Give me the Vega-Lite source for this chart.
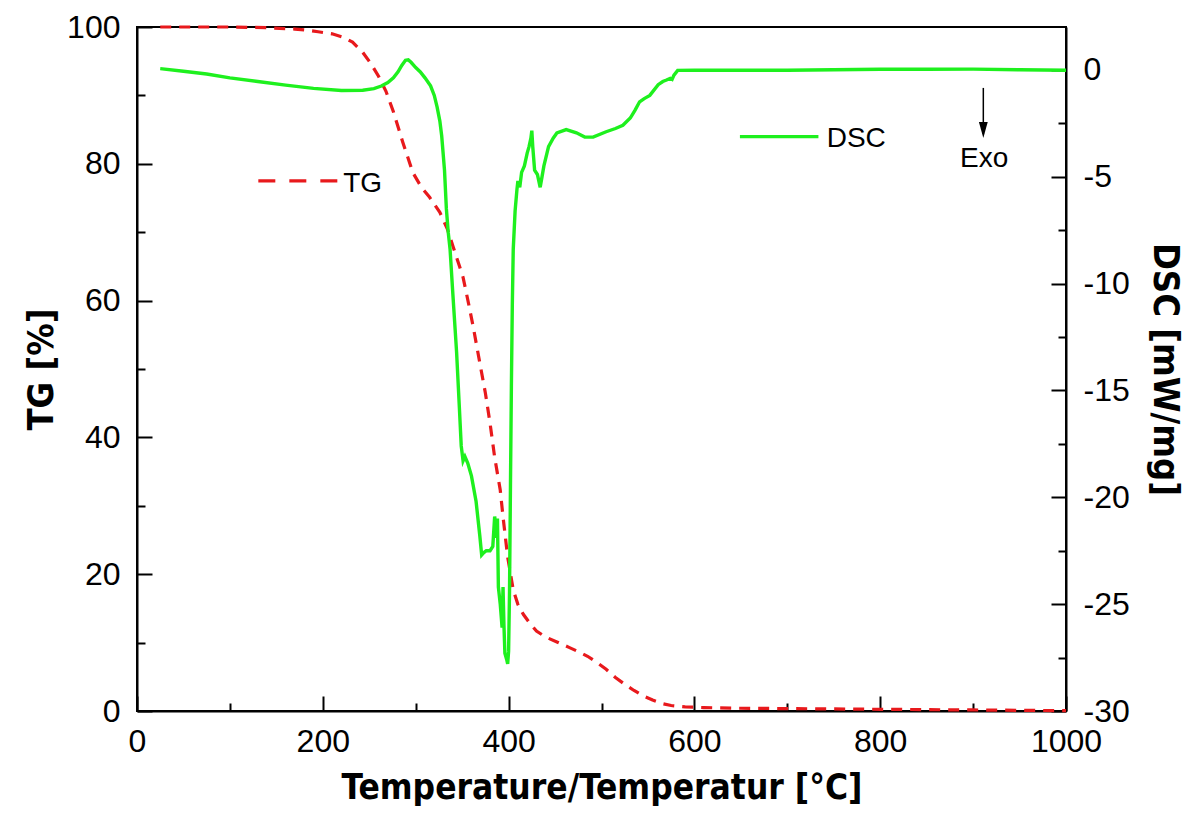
{
  "$schema": "https://vega.github.io/schema/vega-lite/v6.json",
  "width": 929,
  "height": 684,
  "autosize": {"type": "none"},
  "padding": {"left": 137, "top": 27, "right": 134, "bottom": 110},
  "background": "#ffffff",
  "datasets": {
    "tg": [
      {"T": 25, "TG": 100}, {"T": 60, "TG": 100}, {"T": 100, "TG": 100}, {"T": 140, "TG": 99.9},
      {"T": 170, "TG": 99.7}, {"T": 185, "TG": 99.5}, {"T": 195, "TG": 99.3}, {"T": 210, "TG": 99.0},
      {"T": 222, "TG": 98.5}, {"T": 232, "TG": 97.8}, {"T": 243, "TG": 96.3}, {"T": 252, "TG": 94.6},
      {"T": 260, "TG": 92.8}, {"T": 268, "TG": 90.6}, {"T": 276, "TG": 87.6}, {"T": 286, "TG": 83.2},
      {"T": 297, "TG": 78.7}, {"T": 306, "TG": 76.6}, {"T": 315, "TG": 75.1}, {"T": 326, "TG": 72.9},
      {"T": 334, "TG": 70.5}, {"T": 340, "TG": 68.0}, {"T": 346, "TG": 65.5}, {"T": 351, "TG": 63.4},
      {"T": 357, "TG": 59.5}, {"T": 362, "TG": 56.1}, {"T": 369, "TG": 50.9}, {"T": 375, "TG": 46.5},
      {"T": 380, "TG": 42.1}, {"T": 385, "TG": 37.1}, {"T": 391, "TG": 32.3}, {"T": 394, "TG": 28.4},
      {"T": 399, "TG": 22.5}, {"T": 405, "TG": 17.7}, {"T": 410, "TG": 15.6}, {"T": 416, "TG": 14.1},
      {"T": 423, "TG": 12.8}, {"T": 430, "TG": 11.7}, {"T": 440, "TG": 10.8}, {"T": 452, "TG": 10.1},
      {"T": 465, "TG": 9.3}, {"T": 473, "TG": 8.8}, {"T": 485, "TG": 8.0}, {"T": 495, "TG": 7.1},
      {"T": 505, "TG": 6.1}, {"T": 515, "TG": 4.9}, {"T": 525, "TG": 3.9}, {"T": 535, "TG": 3.0},
      {"T": 545, "TG": 2.2}, {"T": 555, "TG": 1.6}, {"T": 565, "TG": 1.1}, {"T": 575, "TG": 0.8},
      {"T": 590, "TG": 0.6}, {"T": 610, "TG": 0.5}, {"T": 650, "TG": 0.4}, {"T": 700, "TG": 0.35},
      {"T": 750, "TG": 0.3}, {"T": 800, "TG": 0.25}, {"T": 850, "TG": 0.2}, {"T": 900, "TG": 0.15},
      {"T": 950, "TG": 0.1}, {"T": 1000, "TG": 0.05}
    ],
    "dsc": [
      {"T": 25, "DSC": 0.05}, {"T": 50, "DSC": -0.07}, {"T": 75, "DSC": -0.2}, {"T": 100, "DSC": -0.38},
      {"T": 130, "DSC": -0.55}, {"T": 160, "DSC": -0.72}, {"T": 190, "DSC": -0.87}, {"T": 220, "DSC": -0.97},
      {"T": 243, "DSC": -0.96}, {"T": 255, "DSC": -0.88}, {"T": 263, "DSC": -0.76}, {"T": 270, "DSC": -0.6},
      {"T": 276, "DSC": -0.38}, {"T": 281, "DSC": -0.1}, {"T": 285, "DSC": 0.2}, {"T": 289, "DSC": 0.44},
      {"T": 292, "DSC": 0.46}, {"T": 295, "DSC": 0.35}, {"T": 300, "DSC": 0.1}, {"T": 305, "DSC": -0.1},
      {"T": 310, "DSC": -0.38}, {"T": 316, "DSC": -0.75}, {"T": 320, "DSC": -1.2}, {"T": 323, "DSC": -1.74},
      {"T": 326, "DSC": -2.4}, {"T": 328, "DSC": -3.1}, {"T": 331, "DSC": -4.7}, {"T": 333, "DSC": -6.5},
      {"T": 335, "DSC": -7.6}, {"T": 337, "DSC": -8.4}, {"T": 340, "DSC": -10.5}, {"T": 344, "DSC": -13.2},
      {"T": 347, "DSC": -15.8}, {"T": 349, "DSC": -17.6}, {"T": 351, "DSC": -18.3}, {"T": 353, "DSC": -18.1},
      {"T": 356, "DSC": -18.4}, {"T": 360, "DSC": -19.0}, {"T": 365, "DSC": -20.2}, {"T": 369, "DSC": -21.8},
      {"T": 371, "DSC": -22.7}, {"T": 373, "DSC": -22.6}, {"T": 376, "DSC": -22.5}, {"T": 380, "DSC": -22.5},
      {"T": 383, "DSC": -22.3}, {"T": 385, "DSC": -20.9}, {"T": 386, "DSC": -21.3}, {"T": 387, "DSC": -21.9},
      {"T": 388, "DSC": -21.0}, {"T": 389, "DSC": -24.2}, {"T": 391, "DSC": -25.0}, {"T": 393, "DSC": -26.1},
      {"T": 394, "DSC": -24.2}, {"T": 395, "DSC": -26.0}, {"T": 396, "DSC": -27.3}, {"T": 398, "DSC": -27.6},
      {"T": 399, "DSC": -27.8}, {"T": 400, "DSC": -27.2}, {"T": 401, "DSC": -24.4}, {"T": 402, "DSC": -19.5},
      {"T": 403, "DSC": -14.8}, {"T": 404, "DSC": -11.0}, {"T": 405, "DSC": -8.4}, {"T": 407, "DSC": -6.6},
      {"T": 409, "DSC": -5.6}, {"T": 410, "DSC": -5.2}, {"T": 412, "DSC": -5.5}, {"T": 414, "DSC": -4.8},
      {"T": 417, "DSC": -4.5}, {"T": 420, "DSC": -3.9}, {"T": 422, "DSC": -3.6}, {"T": 424, "DSC": -3.2},
      {"T": 425, "DSC": -2.85}, {"T": 426, "DSC": -3.6}, {"T": 428, "DSC": -4.7}, {"T": 431, "DSC": -4.9},
      {"T": 434, "DSC": -5.5}, {"T": 436, "DSC": -5.0}, {"T": 438, "DSC": -4.5}, {"T": 443, "DSC": -3.6},
      {"T": 448, "DSC": -3.2}, {"T": 452, "DSC": -2.96}, {"T": 462, "DSC": -2.8}, {"T": 473, "DSC": -2.95},
      {"T": 482, "DSC": -3.15}, {"T": 491, "DSC": -3.15}, {"T": 505, "DSC": -2.9}, {"T": 515, "DSC": -2.75},
      {"T": 523, "DSC": -2.6}, {"T": 531, "DSC": -2.26}, {"T": 536, "DSC": -1.9}, {"T": 541, "DSC": -1.5},
      {"T": 546, "DSC": -1.35}, {"T": 552, "DSC": -1.2}, {"T": 561, "DSC": -0.7}, {"T": 566, "DSC": -0.55},
      {"T": 570, "DSC": -0.48}, {"T": 574, "DSC": -0.4}, {"T": 576, "DSC": -0.45}, {"T": 578, "DSC": -0.25},
      {"T": 582, "DSC": -0.03}, {"T": 600, "DSC": -0.02}, {"T": 650, "DSC": -0.02}, {"T": 700, "DSC": -0.02},
      {"T": 750, "DSC": 0.0}, {"T": 800, "DSC": 0.02}, {"T": 850, "DSC": 0.02}, {"T": 900, "DSC": 0.03},
      {"T": 950, "DSC": 0.0}, {"T": 1000, "DSC": -0.02}
    ],
    "tgKey": [{"T": 130.6, "TG": 77.5}, {"T": 216.7, "TG": 77.5}],
    "tgKeyText": [{"T": 222, "TG": 75.9, "label": "TG"}],
    "dscKey": [{"T": 649, "DSC": -3.13}, {"T": 733.5, "DSC": -3.13}],
    "dscKeyText": [{"T": 742.4, "DSC": -3.63, "label": "DSC"}],
    "exoArrow": [{"T": 911, "DSC": -0.85, "bottom": -3.0}],
    "exoHead": [{"T": 911, "DSC": -2.82}],
    "exoText": [{"T": 912, "DSC": -4.54, "label": "Exo"}]
  },
  "layer": [
    {
      "layer": [
        {
          "data": {"name": "tg"},
          "mark": {"type": "line", "color": "#e8191c", "strokeWidth": 3.2, "strokeDash": [11, 8]},
          "encoding": {
            "x": {
              "field": "T", "type": "quantitative",
              "scale": {"domain": [0, 1000], "nice": false},
              "axis": {
                "values": [0, 100, 200, 300, 400, 500, 600, 700, 800, 900, 1000],
                "labelExpr": "datum.value % 200 === 0 ? '' + datum.value : ''",
                "tickSize": -15,
                "tickDash": {"condition": {"test": "datum.value % 200 !== 0", "value": [8, 40]}, "value": [40, 0]},
                "labelFont": "Liberation Sans", "labelFontSize": 32, "labelPadding": 30,
                "labelFlush": false, "labelOverlap": false,
                "title": "Temperature/Temperatur [°C]",
                "titleFont": "DejaVu Sans Condensed, Open Sans, sans-serif", "titleFontSize": 35, "titleFontWeight": "bold",
                "titlePadding": 13
              }
            },
            "y": {
              "field": "TG", "type": "quantitative",
              "scale": {"domain": [0, 100], "nice": false},
              "axis": {
                "orient": "left",
                "values": [0, 10, 20, 30, 40, 50, 60, 70, 80, 90, 100],
                "labelExpr": "datum.value % 20 === 0 ? '' + datum.value : ''",
                "tickSize": -15,
                "tickDash": {"condition": {"test": "datum.value % 20 !== 0", "value": [8, 40]}, "value": [40, 0]},
                "labelFont": "Liberation Sans", "labelFontSize": 32, "labelPadding": 32,
                "labelFlush": false, "labelOverlap": false,
                "title": "TG [%]",
                "titleFont": "DejaVu Sans Condensed, Open Sans, sans-serif", "titleFontSize": 36, "titleFontWeight": "bold",
                "titlePadding": 6
              }
            }
          }
        },
        {
          "data": {"name": "tgKey"},
          "mark": {"type": "line", "color": "#e8191c", "strokeWidth": 3.2, "strokeDash": [17, 14]},
          "encoding": {
            "x": {"field": "T", "type": "quantitative"},
            "y": {"field": "TG", "type": "quantitative"}
          }
        },
        {
          "data": {"name": "tgKeyText"},
          "mark": {"type": "text", "align": "left", "baseline": "alphabetic", "font": "Liberation Sans", "fontSize": 28, "color": "#000"},
          "encoding": {
            "x": {"field": "T", "type": "quantitative"},
            "y": {"field": "TG", "type": "quantitative"},
            "text": {"field": "label"}
          }
        }
      ]
    },
    {
      "layer": [
        {
          "data": {"name": "dsc"},
          "mark": {"type": "line", "color": "#1ef01e", "strokeWidth": 3.4},
          "encoding": {
            "x": {"field": "T", "type": "quantitative"},
            "y": {
              "field": "DSC", "type": "quantitative",
              "scale": {"domain": [-30, 2], "nice": false, "zero": false},
              "axis": {
                "orient": "right",
                "values": [-30, -27.5, -25, -22.5, -20, -17.5, -15, -12.5, -10, -7.5, -5, -2.5, 0],
                "labelExpr": "datum.value % 5 === 0 ? '' + datum.value : ''",
                "tickSize": -15,
                "tickDash": {"condition": {"test": "datum.value % 5 !== 0", "value": [8, 40]}, "value": [40, 0]},
                "labelFont": "Liberation Sans", "labelFontSize": 32, "labelPadding": 32,
                "labelFlush": false, "labelOverlap": false,
                "title": "DSC [mW/mg]",
                "titleFont": "DejaVu Sans Condensed, Open Sans, sans-serif", "titleFontSize": 36, "titleFontWeight": "bold",
                "titlePadding": 16
              }
            }
          }
        },
        {
          "data": {"name": "dscKey"},
          "mark": {"type": "line", "color": "#1ef01e", "strokeWidth": 3.4},
          "encoding": {
            "x": {"field": "T", "type": "quantitative"},
            "y": {"field": "DSC", "type": "quantitative"}
          }
        },
        {
          "data": {"name": "dscKeyText"},
          "mark": {"type": "text", "align": "left", "baseline": "alphabetic", "font": "Liberation Sans", "fontSize": 28, "color": "#000"},
          "encoding": {
            "x": {"field": "T", "type": "quantitative"},
            "y": {"field": "DSC", "type": "quantitative"},
            "text": {"field": "label"}
          }
        },
        {
          "data": {"name": "exoArrow"},
          "mark": {"type": "rule", "color": "#000", "strokeWidth": 1.5},
          "encoding": {
            "x": {"field": "T", "type": "quantitative"},
            "y": {"field": "DSC", "type": "quantitative"},
            "y2": {"field": "bottom"}
          }
        },
        {
          "data": {"name": "exoHead"},
          "mark": {"type": "point", "shape": "M-0.55,-1L0.55,-1L0,1Z", "size": 256, "filled": true, "color": "#000", "opacity": 1},
          "encoding": {
            "x": {"field": "T", "type": "quantitative"},
            "y": {"field": "DSC", "type": "quantitative"}
          }
        },
        {
          "data": {"name": "exoText"},
          "mark": {"type": "text", "align": "center", "baseline": "alphabetic", "font": "Liberation Sans", "fontSize": 28, "color": "#000"},
          "encoding": {
            "x": {"field": "T", "type": "quantitative"},
            "y": {"field": "DSC", "type": "quantitative"},
            "text": {"field": "label"}
          }
        }
      ]
    }
  ],
  "resolve": {"scale": {"y": "independent"}},
  "config": {
    "view": {"stroke": "#000", "strokeWidth": 2},
    "axis": {
      "grid": false,
      "domainColor": "#000", "domainWidth": 2,
      "tickColor": "#000", "tickWidth": 2,
      "labelColor": "#000", "titleColor": "#000"
    }
  }
}
